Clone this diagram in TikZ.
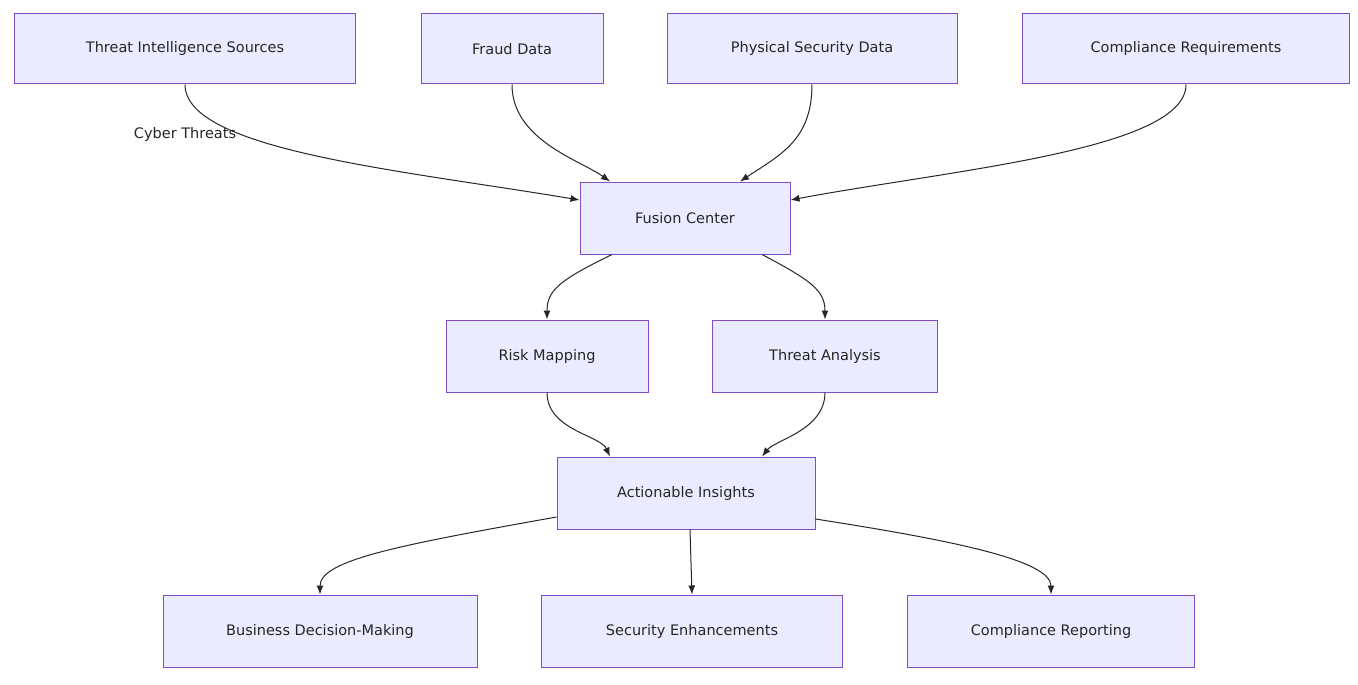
\documentclass[tikz,border=0pt]{standalone}
\usepackage{fontspec}
\setmainfont{DejaVu Sans}
\usetikzlibrary{calc,arrows.meta,patterns}
\begin{document}
\begin{tikzpicture}[x=1pt,y=-1pt,
  box/.style={draw=violet!60!blue!70, line width=1pt, fill=blue!8, minimum height=70pt, inner sep=0pt, font=\fontsize{14.5}{16}\selectfont, text=black!85},
  edge/.style={draw=black!85, line width=1pt, -{Latex[length=9pt,width=7pt]}}]
\useasboundingbox (0,0) rectangle (1358,685);
\fill[white] (0,0) rectangle (1358,685);
\node[box,minimum width=341pt] (ti) at (185,49) {Threat Intelligence Sources};
\node[box,minimum width=182pt] (fd) at (512,49) {Fraud Data};
\node[box,minimum width=290pt] (ps) at (812,49) {Physical Security Data};
\node[box,minimum width=327pt] (cr) at (1186,49) {Compliance Requirements};
\node[box,minimum width=210pt,minimum height=72pt] (fc) at (685,218) {Fusion Center};
\node[box,minimum width=202pt,minimum height=72pt] (rm) at (547,356) {Risk Mapping};
\node[box,minimum width=225pt,minimum height=72pt] (ta) at (825,356) {Threat Analysis};
\node[box,minimum width=258pt,minimum height=72pt] (ai) at (686,493) {Actionable Insights};
\node[box,minimum width=314pt,minimum height=72pt] (bd) at (320,631) {Business Decision-Making};
\node[box,minimum width=301pt,minimum height=72pt] (se) at (692,631) {Security Enhancements};
\node[box,minimum width=287pt,minimum height=72pt] (co) at (1051,631) {Compliance Reporting};
\node[font=\fontsize{14.5}{16}\selectfont, text=black!85] (lbl) at (185,134) {Cyber Threats};
\draw[edge] (ti.south) .. controls (185,150) and (400,170) .. ($(fc.west)+(0,-18)$);
\draw[edge] (fd.south) .. controls (512,140) and (580,160) .. ($(fc.north)+(-75,0)$);
\draw[edge] (ps.south) .. controls (812,140) and (780,155) .. ($(fc.north)+(55,0)$);
\draw[edge] (cr.south) .. controls (1186,150) and (950,170) .. ($(fc.east)+(0,-18)$);
\draw[edge] ($(fc.south)+(-73,0)$) .. controls (560,280) and (547,290) .. (rm.north);
\draw[edge] ($(fc.south)+(77,0)$) .. controls (810,280) and (825,290) .. (ta.north);
\draw[edge] (rm.south) .. controls (547,430) and (600,435) .. ($(ai.north)+(-76,0)$);
\draw[edge] (ta.south) .. controls (825,430) and (775,440) .. ($(ai.north)+(76,0)$);
\draw[edge] ($(ai.west)+(0,24)$) .. controls (400,545) and (320,560) .. (bd.north);
\draw[edge] ($(ai.south)+(4,0)$) -- (se.north);
\draw[edge] ($(ai.east)+(0,26)$) .. controls (950,540) and (1051,560) .. (co.north);
\end{tikzpicture}
\end{document}
